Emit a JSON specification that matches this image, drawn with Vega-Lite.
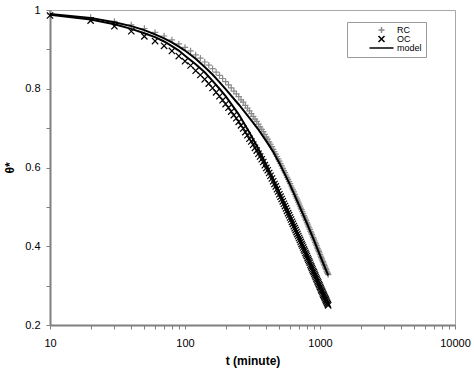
{
  "$schema": "https://vega.github.io/schema/vega-lite/v6.json",
  "width": 405,
  "height": 315,
  "autosize": "none",
  "padding": {"left": 50, "top": 10, "right": 19, "bottom": 50},
  "background": "white",
  "datasets": {
    "obs": [
      {"t":10,"RC":0.990,"OC":0.986},{"t":20,"RC":0.981,"OC":0.973},{"t":30,"RC":0.971,"OC":0.959},{"t":40,"RC":0.962,"OC":0.946},{"t":50,"RC":0.953,"OC":0.933},
      {"t":60,"RC":0.943,"OC":0.921},{"t":70,"RC":0.934,"OC":0.909},{"t":80,"RC":0.924,"OC":0.896},{"t":90,"RC":0.914,"OC":0.883},{"t":100,"RC":0.905,"OC":0.870},
      {"t":110,"RC":0.896,"OC":0.859},{"t":120,"RC":0.886,"OC":0.846},{"t":130,"RC":0.878,"OC":0.835},{"t":140,"RC":0.868,"OC":0.824},{"t":150,"RC":0.860,"OC":0.813},
      {"t":160,"RC":0.851,"OC":0.802},{"t":170,"RC":0.842,"OC":0.791},{"t":180,"RC":0.834,"OC":0.781},{"t":190,"RC":0.826,"OC":0.771},{"t":200,"RC":0.818,"OC":0.761},
      {"t":210,"RC":0.810,"OC":0.752},{"t":220,"RC":0.802,"OC":0.742},{"t":230,"RC":0.794,"OC":0.733},{"t":240,"RC":0.787,"OC":0.725},{"t":250,"RC":0.780,"OC":0.716},
      {"t":260,"RC":0.772,"OC":0.707},{"t":270,"RC":0.766,"OC":0.699},{"t":280,"RC":0.758,"OC":0.690},{"t":290,"RC":0.751,"OC":0.682},{"t":300,"RC":0.744,"OC":0.673},
      {"t":310,"RC":0.737,"OC":0.666},{"t":320,"RC":0.730,"OC":0.658},{"t":330,"RC":0.723,"OC":0.650},{"t":340,"RC":0.717,"OC":0.643},{"t":350,"RC":0.710,"OC":0.635},
      {"t":360,"RC":0.703,"OC":0.628},{"t":370,"RC":0.697,"OC":0.621},{"t":380,"RC":0.691,"OC":0.614},{"t":390,"RC":0.684,"OC":0.606},{"t":400,"RC":0.677,"OC":0.599},
      {"t":410,"RC":0.672,"OC":0.593},{"t":420,"RC":0.665,"OC":0.586},{"t":430,"RC":0.659,"OC":0.579},{"t":440,"RC":0.653,"OC":0.572},{"t":450,"RC":0.646,"OC":0.565},
      {"t":460,"RC":0.640,"OC":0.558},{"t":470,"RC":0.634,"OC":0.552},{"t":480,"RC":0.628,"OC":0.545},{"t":490,"RC":0.622,"OC":0.539},{"t":500,"RC":0.616,"OC":0.532},
      {"t":510,"RC":0.610,"OC":0.526},{"t":520,"RC":0.604,"OC":0.520},{"t":530,"RC":0.598,"OC":0.514},{"t":540,"RC":0.592,"OC":0.508},{"t":550,"RC":0.587,"OC":0.502},
      {"t":560,"RC":0.581,"OC":0.496},{"t":570,"RC":0.575,"OC":0.490},{"t":580,"RC":0.570,"OC":0.484},{"t":590,"RC":0.564,"OC":0.479},{"t":600,"RC":0.559,"OC":0.473},
      {"t":610,"RC":0.553,"OC":0.468},{"t":620,"RC":0.548,"OC":0.462},{"t":630,"RC":0.543,"OC":0.457},{"t":640,"RC":0.538,"OC":0.451},{"t":650,"RC":0.532,"OC":0.446},
      {"t":660,"RC":0.527,"OC":0.441},{"t":670,"RC":0.522,"OC":0.436},{"t":680,"RC":0.517,"OC":0.431},{"t":690,"RC":0.512,"OC":0.426},{"t":700,"RC":0.507,"OC":0.421},
      {"t":710,"RC":0.502,"OC":0.416},{"t":720,"RC":0.497,"OC":0.411},{"t":730,"RC":0.493,"OC":0.406},{"t":740,"RC":0.488,"OC":0.402},{"t":750,"RC":0.483,"OC":0.397},
      {"t":760,"RC":0.478,"OC":0.392},{"t":770,"RC":0.474,"OC":0.388},{"t":780,"RC":0.469,"OC":0.383},{"t":790,"RC":0.465,"OC":0.379},{"t":800,"RC":0.460,"OC":0.375},
      {"t":810,"RC":0.456,"OC":0.370},{"t":820,"RC":0.451,"OC":0.366},{"t":830,"RC":0.447,"OC":0.362},{"t":840,"RC":0.443,"OC":0.358},{"t":850,"RC":0.438,"OC":0.353},
      {"t":860,"RC":0.434,"OC":0.349},{"t":870,"RC":0.430,"OC":0.345},{"t":880,"RC":0.426,"OC":0.341},{"t":890,"RC":0.422,"OC":0.337},{"t":900,"RC":0.418,"OC":0.334},
      {"t":910,"RC":0.414,"OC":0.330},{"t":920,"RC":0.410,"OC":0.326},{"t":930,"RC":0.406,"OC":0.322},{"t":940,"RC":0.402,"OC":0.318},{"t":950,"RC":0.398,"OC":0.315},
      {"t":960,"RC":0.394,"OC":0.311},{"t":970,"RC":0.390,"OC":0.308},{"t":980,"RC":0.387,"OC":0.304},{"t":990,"RC":0.383,"OC":0.301},{"t":1000,"RC":0.379,"OC":0.297},
      {"t":1010,"RC":0.375,"OC":0.294},{"t":1020,"RC":0.372,"OC":0.290},{"t":1030,"RC":0.368,"OC":0.287},{"t":1040,"RC":0.365,"OC":0.284},{"t":1050,"RC":0.361,"OC":0.280},
      {"t":1060,"RC":0.358,"OC":0.277},{"t":1070,"RC":0.354,"OC":0.274},{"t":1080,"RC":0.351,"OC":0.271},{"t":1090,"RC":0.347,"OC":0.268},{"t":1100,"RC":0.344,"OC":0.265},
      {"t":1110,"RC":0.341,"OC":0.262},{"t":1120,"RC":0.337,"OC":0.259},{"t":1130,"RC":0.334,"OC":0.256},{"t":1140,"RC":0.331,"OC":0.253},{"t":1150,"RC":0.328,"OC":0.250}
    ],
    "model": [
      {"t":10,"RC":0.990,"OC":0.988},{"t":20,"RC":0.980,"OC":0.976},{"t":30,"RC":0.969,"OC":0.964},{"t":40,"RC":0.959,"OC":0.952},{"t":50,"RC":0.949,"OC":0.941},
      {"t":60,"RC":0.938,"OC":0.931},{"t":70,"RC":0.928,"OC":0.920},{"t":80,"RC":0.918,"OC":0.908},{"t":90,"RC":0.907,"OC":0.897},{"t":100,"RC":0.897,"OC":0.884},
      {"t":120,"RC":0.876,"OC":0.862},{"t":140,"RC":0.855,"OC":0.842},{"t":160,"RC":0.836,"OC":0.820},{"t":180,"RC":0.817,"OC":0.800},{"t":200,"RC":0.799,"OC":0.781},
      {"t":250,"RC":0.760,"OC":0.735},{"t":300,"RC":0.726,"OC":0.689},{"t":350,"RC":0.696,"OC":0.647},{"t":400,"RC":0.667,"OC":0.607},{"t":450,"RC":0.640,"OC":0.571},
      {"t":500,"RC":0.611,"OC":0.537},{"t":600,"RC":0.556,"OC":0.476},{"t":700,"RC":0.504,"OC":0.424},{"t":800,"RC":0.458,"OC":0.378},{"t":900,"RC":0.416,"OC":0.337},
      {"t":1000,"RC":0.377,"OC":0.300},{"t":1100,"RC":0.342,"OC":0.268},{"t":1150,"RC":0.326,"OC":0.253}
    ]
  },
  "encoding": {
    "x": {"field": "t", "type": "quantitative",
      "scale": {"type": "log", "domain": [10, 10000]},
      "axis": {"title": "t (minute)",
        "values": [10,20,30,40,50,60,70,80,90,100,200,300,400,500,600,700,800,900,1000,2000,3000,4000,5000,6000,7000,8000,9000,10000],
        "labelExpr": "(datum.value == 10 || datum.value == 100 || datum.value == 1000 || datum.value == 10000) ? format(datum.value, 'd') : ''"}},
    "y": {"field": "theta", "type": "quantitative",
      "scale": {"domain": [0.2, 1], "nice": false, "zero": false},
      "axis": {"title": "θ*",
        "values": [0.2,0.3,0.4,0.5,0.6,0.7,0.8,0.9,1],
        "labelExpr": "(round(datum.value * 10) % 2 == 0) ? format(datum.value, '.1~f') : ''"}}
  },
  "layer": [
    {
      "data": {"name": "obs"},
      "transform": [{"fold": ["RC", "OC"], "as": ["series", "theta"]}],
      "mark": {"type": "point", "filled": false, "strokeWidth": 1.2, "size": 40, "opacity": 1},
      "encoding": {
        "color": {"field": "series", "type": "nominal", "title": null,
          "scale": {"domain": ["RC", "OC", "model"], "range": ["#8a8a8a", "#000000", "#000000"]}},
        "shape": {"field": "series", "type": "nominal", "title": null,
          "scale": {"domain": ["RC", "OC", "model"], "range": ["M0,-1L0,1M-1,0L1,0", "M-1,-1L1,1M-1,1L1,-1", "M-4,0L4,0"]}}
      }
    },
    {
      "data": {"name": "model"},
      "transform": [{"fold": ["RC", "OC"], "as": ["curve", "theta"]}],
      "mark": {"type": "line", "strokeWidth": 2},
      "encoding": {
        "detail": {"field": "curve"},
        "color": {"datum": "model", "type": "nominal"}
      }
    }
  ],
  "resolve": {"scale": {"color": "shared", "shape": "shared"}},
  "config": {
    "font": "Liberation Sans",
    "view": {"stroke": "#a8a8a8", "strokeWidth": 1},
    "axis": {"domainColor": "#808080", "domainWidth": 2, "tickColor": "#808080", "tickWidth": 1, "tickSize": 4, "grid": false,
      "labelFont": "Liberation Sans", "labelFontSize": 11, "labelColor": "#000000", "labelFlush": false, "labelOverlap": false,
      "titleFont": "Liberation Sans", "titleFontSize": 12, "titleFontWeight": "bold", "titleColor": "#000000"},
    "axisX": {"labelPadding": 8, "titlePadding": 7},
    "axisY": {"labelPadding": 6, "titlePadding": 8},
    "legend": {"orient": "none", "legendX": 297, "legendY": 12, "strokeColor": "#999999", "fillColor": "white",
      "padding": 4, "symbolOffset": 26, "labelOffset": 11, "labelFontSize": 9, "labelFont": "Liberation Sans",
      "rowPadding": 0, "clipHeight": 8, "symbolSize": 36, "symbolStrokeWidth": 1.5, "labelExpr": "datum.label + '\u00a0\u00a0\u00a0'"}
  }
}
